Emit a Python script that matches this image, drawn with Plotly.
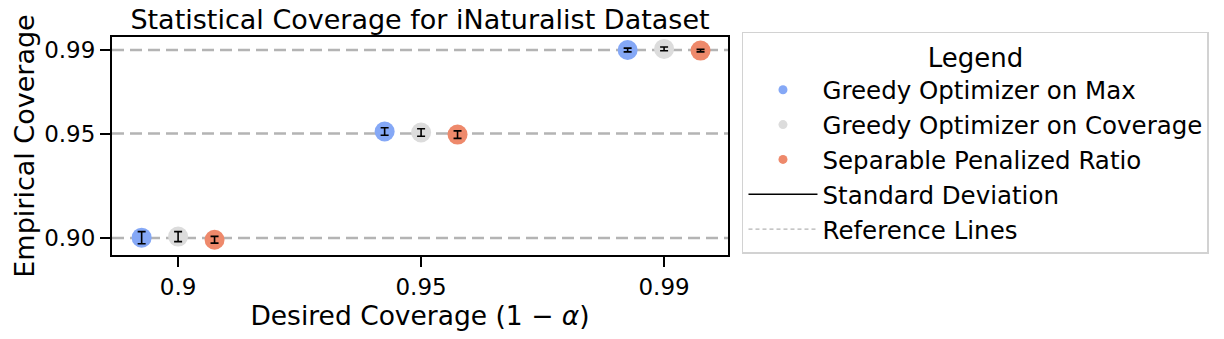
import plotly.graph_objects as go

categories = ["0.9", "0.95", "0.99"]
desired = [0.90, 0.95, 0.99]

max_mean = [0.9002, 0.9510, 0.9900]
max_std = [0.0029, 0.0018, 0.0009]
cov_mean = [0.9007, 0.9505, 0.9905]
cov_std = [0.0024, 0.0018, 0.0009]
ratio_mean = [0.8992, 0.9495, 0.9897]
ratio_std = [0.0016, 0.0018, 0.0006]

series_names = ["Greedy Optimizer on Max", "Greedy Optimizer on Coverage", "Separable Penalized Ratio"]
series_means = [max_mean, cov_mean, ratio_mean]
series_stds = [max_std, cov_std, ratio_std]
colors = ["rgb(133,168,246)", "rgb(220,220,220)", "rgb(238,137,107)"]
offsets = [-0.15, 0.0, 0.15]

FONT = "DejaVu Sans"
fig = go.Figure()

for v in desired:
    fig.add_hline(y=v, line=dict(color="rgb(180,180,180)", width=2.5, dash="12px,6px"), layer="below")

# markers
for name, means, col, off in zip(series_names, series_means, colors, offsets):
    xs = [i + off for i in range(len(categories))]
    fig.add_trace(go.Scatter(
        x=xs, y=means, mode="markers", showlegend=False,
        marker=dict(size=20, color=col, line=dict(width=0)),
    ))
# error bars on top of markers
for name, means, stds, off in zip(series_names, series_means, series_stds, offsets):
    xs = [i + off for i in range(len(categories))]
    fig.add_trace(go.Scatter(
        x=xs, y=means, mode="markers", showlegend=False,
        marker=dict(size=1, color="rgba(0,0,0,0)"),
        error_y=dict(type="data", array=stds, visible=True, color="black", thickness=1.6, width=4),
    ))

for name, col in zip(series_names, colors):
    fig.add_trace(go.Scatter(x=[None], y=[None], mode="markers", name=name,
                             marker=dict(size=9, color=col)))
fig.add_trace(go.Scatter(x=[None], y=[None], mode="lines", name="Standard Deviation",
                         line=dict(color="black", width=1.5)))
fig.add_trace(go.Scatter(x=[None], y=[None], mode="lines", name="Reference Lines",
                         line=dict(color="rgb(180,180,180)", width=1.2, dash="4px,3px")))

fig.update_layout(
    width=1224, height=339,
    margin=dict(l=112, r=496, t=37, b=84),
    plot_bgcolor="white", paper_bgcolor="white",
    font=dict(family=FONT, color="black", size=22),
    title=dict(text="Statistical Coverage for iNaturalist Dataset", x=0.5, xref="paper",
               y=1 - 20 / 339, yref="container", yanchor="middle", xanchor="center",
               font=dict(size=27, family=FONT, color="black")),
    legend=dict(
        x=1.0227, y=1.023, xanchor="left", yanchor="top", xref="paper", yref="paper",
        bordercolor="rgb(210,210,210)", borderwidth=1.5, bgcolor="white",
        font=dict(size=24.5, family=FONT),
        title=dict(text="Legend", side="top center", font=dict(size=26, family=FONT)),
        itemwidth=69, tracegroupgap=0, maxheight=339,
    ),
)
fig.update_xaxes(
    range=[-0.272, 2.263], tickmode="array", tickvals=list(range(len(categories))), ticktext=categories,
    showline=True, linecolor="black", linewidth=2, mirror=True, showgrid=False, zeroline=False,
    ticks="outside", ticklen=10, tickwidth=2, tickcolor="black",
    tickfont=dict(size=23, family=FONT),
    title=dict(text="Desired Coverage (1 \u2212 <i>\u03b1</i>)", font=dict(size=26.5, family=FONT), standoff=2),
)
fig.update_yaxes(
    range=[0.8919, 0.9962], tickmode="array", tickvals=desired, ticktext=["0.90", "0.95", "0.99"],
    showline=True, linecolor="black", linewidth=2, mirror=True, showgrid=False, zeroline=False,
    ticks="outside", ticklen=10, tickwidth=2, tickcolor="black",
    tickfont=dict(size=23, family=FONT),
    title=dict(text="Empirical Coverage", font=dict(size=27, family=FONT), standoff=2),
)

fig.write_html("out.html", config={"displayModeBar": False},
               post_script="document.body.style.margin='0px';")
